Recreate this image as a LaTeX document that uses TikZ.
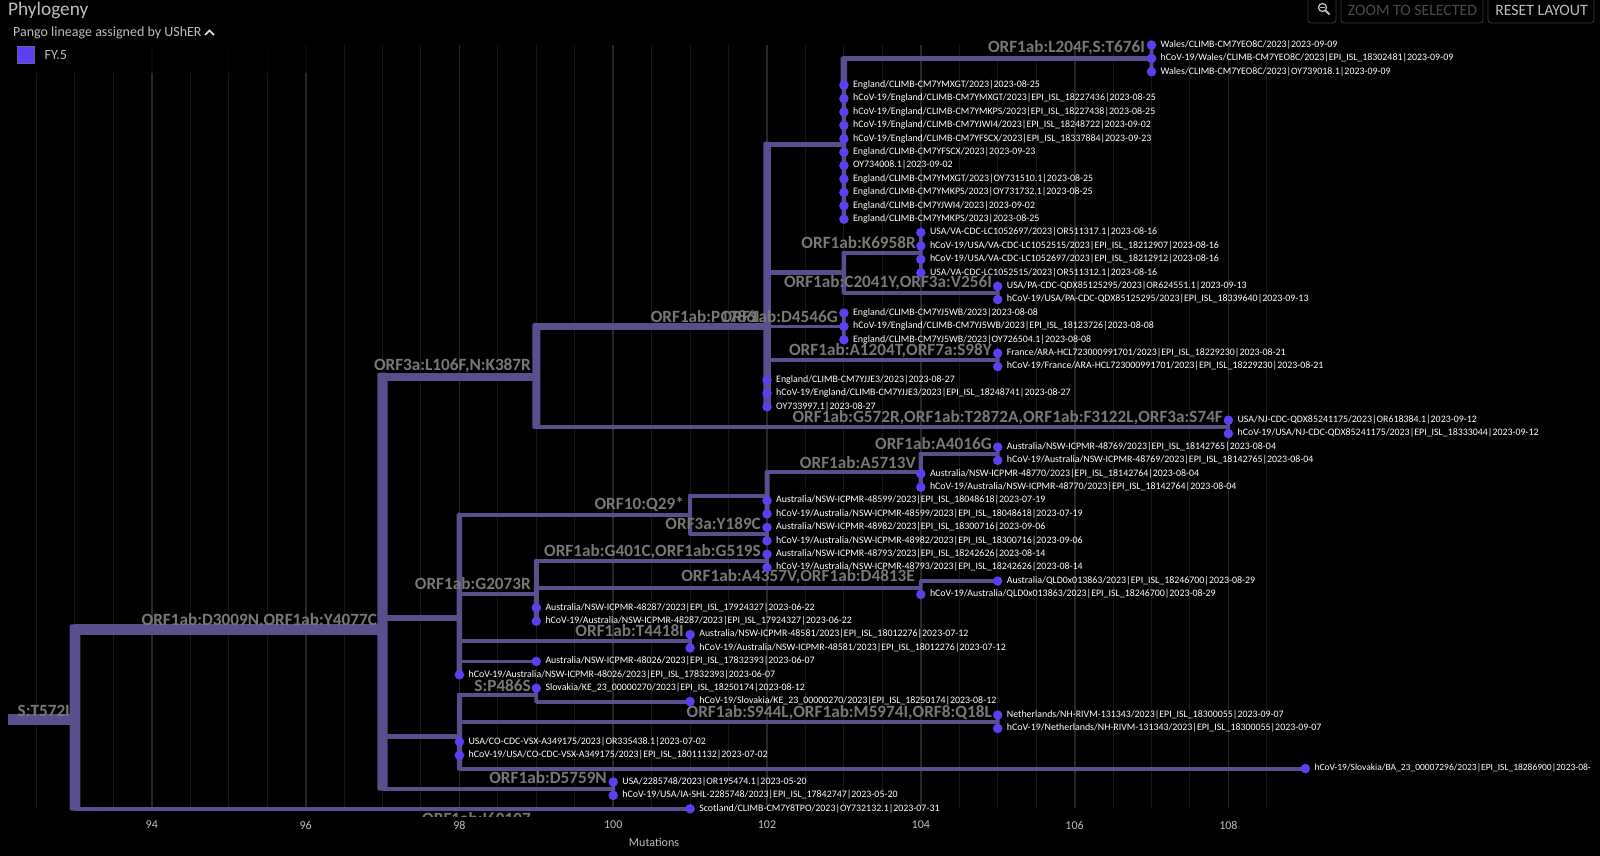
\documentclass[tikz,border=0pt]{standalone}
\usepackage{fontspec}
\usetikzlibrary{calc}
\setmainfont{Carlito}
\definecolor{branch}{HTML}{5A4F8C}
\definecolor{dotc}{HTML}{5A40F0}
\definecolor{mutc}{HTML}{787878}
\definecolor{gridA}{HTML}{282828}
\definecolor{gridB}{HTML}{171717}
\definecolor{gridtext}{HTML}{BDBDBD}
\definecolor{btnline}{HTML}{3A3A3A}
\definecolor{btndim}{HTML}{4A4A4A}
\newcommand{\X}[1]{\fpeval{151.8+(#1-94)*76.9}}
\newcommand{\Y}[1]{\fpeval{45+13.4*#1}}
\tikzset{
  leaflab/.style={anchor=west,text=white,font=\fontsize{9.9}{11}\selectfont,inner sep=0pt},
  mut/.style={anchor=south east,text=mutc,font=\bfseries\fontsize{17.2}{17}\selectfont,inner sep=0pt},
  axtick/.style={text=gridtext,font=\fontsize{12}{12}\selectfont},
  btn/.style={draw=btnline,rounded corners=3pt,line width=0.8pt},
  dotn/.style={circle,fill=dotc,inner sep=0pt,minimum size=9.5pt},
}
% leaf: index, mutations, text
\newcommand{\leafn}[3]{%
  \node[dotn] (l#1) at ({\X{#2}},{\Y{#1}}) {};
  \node[leaflab] (t#1) at ({\X{#2}+9},{\Y{#1}-0.4}) {#3};}
% horizontal arm: parent, child, width
\newcommand{\hbarr}[3]{\draw[branch,line width=#3pt] (#1 |- #2) -- (#2);}
% vertical bar at parent: parent, top, top width, bottom, bottom width, bar width
\newcommand{\vbarr}[6]{\fill[branch,rounded corners=1.5pt] ($(#1 |- #2)+({-#6/2},{-#3/2})$) rectangle ($(#1 |- #4)+({#6/2},{#5/2})$);}
\newcommand{\innern}[3]{\coordinate (#1) at ({\X{#2}},{#3});}
\begin{document}
\begin{tikzpicture}[x=1pt,y=-1pt]
\useasboundingbox (0,0) rectangle (1600,856);
\fill[black] (0,0) rectangle (1600,856);
% grid
\foreach \m in {92.5,93.5,94.5,95.5,96.5,97.5,98.5,99.5,100.5,101.5,102.5,103.5,104.5,105.5,106.5,107.5,108.5,93,95,97,99,101,103,105,107}
  \draw[gridB,line width=1pt] ({\X{\m}},45) -- ({\X{\m}},808);
\foreach \m in {94,96,98,100,102,104,106,108}{
  \draw[gridA,line width=1.8pt] ({\X{\m}},45) -- ({\X{\m}},808);
  \node[axtick] at ({\X{\m}},825) {\m};}
\node[text=gridtext,font=\fontsize{12}{12}\selectfont] (xlab) at (654,842) {Mutations};
% legend veil
\fill[black,opacity=0.8] (0,0) rectangle (320,73);
% inner nodes
\coordinate (root0) at (8,719.3);
\innern{root}{93}{719.3}
\innern{a}{97}{629.5}
\innern{b}{99}{376.8}
\innern{k}{102}{326.7}
\innern{ll}{103}{144.3}
\innern{wal}{107}{58.6}
\innern{m}{103}{272.7}
\innern{va}{104}{252.7}
\innern{pa}{105}{292.9}
\innern{d45}{103}{326.4}
\innern{fr}{105}{359.9}
\innern{nj}{108}{426.9}
\innern{c}{98}{617.7}
\innern{f}{101}{515}
\innern{g}{102}{495.7}
\innern{p}{104}{472}
\innern{q}{105}{453.7}
\innern{y}{102}{534.1}
\innern{d}{99}{594}
\innern{gg}{102}{560.8}
\innern{h4}{104}{588}
\innern{t44}{101}{641.3}
\innern{h}{98}{736.3}
\innern{i}{99}{695}
\innern{nl}{105}{721.7}
\innern{j}{100}{788.7}
% leaf coordinates
\foreach \i/\m in {0/107,1/107,2/107,3/103,4/103,5/103,6/103,7/103,8/103,9/103,10/103,11/103,12/103,13/103,14/104,15/104,16/104,17/104,18/105,19/105,20/103,21/103,22/103,23/105,24/105,25/102,26/102,27/102,28/108,29/108,30/105,31/105,32/104,33/104,34/102,35/102,36/102,37/102,38/102,39/102,40/105,41/104,42/99,43/99,44/101,45/101,46/99,47/98,48/99,49/101,50/105,51/105,52/98,53/98,54/109,55/100,56/100,57/101}
  \coordinate (c\i) at ({\X{\m}},{\Y{\i}});
% vertical bars
\vbarr{root}{a}{10.3}{c57}{3.8}{10.7}
\vbarr{a}{b}{8.3}{j}{4}{10.3}
\vbarr{b}{k}{7.5}{nj}{4}{8}
\vbarr{k}{ll}{5.5}{c27}{0}{7.5}
\vbarr{ll}{wal}{4.3}{c13}{0}{4.4}
\vbarr{ll}{wal}{4.3}{c3}{0}{6.5}
\vbarr{wal}{c0}{0}{c2}{0}{3.6}
\vbarr{m}{va}{3.8}{pa}{3.8}{4.6}
\vbarr{va}{c14}{0}{c17}{0}{3.6}
\vbarr{pa}{c18}{0}{c19}{0}{3.6}
\vbarr{d45}{c20}{0}{c22}{0}{3.6}
\vbarr{fr}{c23}{0}{c24}{0}{3.6}
\vbarr{nj}{c28}{0}{c29}{0}{3.6}
\vbarr{q}{c30}{0}{c31}{0}{3.6}
\vbarr{p}{q}{3.8}{c33}{0}{4.3}
\vbarr{g}{p}{4.2}{c35}{0}{5}
\vbarr{y}{c36}{0}{c37}{0}{3.6}
\vbarr{f}{g}{4.4}{y}{3.8}{4.2}
\vbarr{c}{f}{4.6}{c47}{0}{5.5}
\vbarr{d}{gg}{3.8}{c43}{0}{5}
\vbarr{gg}{c38}{0}{c39}{0}{3.6}
\vbarr{h4}{c40}{3.8}{c41}{0}{3.8}
\vbarr{t44}{c44}{0}{c45}{0}{3.6}
\vbarr{i}{c48}{0}{c49}{3.8}{3.8}
\vbarr{nl}{c50}{0}{c51}{0}{3.6}
\vbarr{h}{i}{3.8}{c54}{3.8}{5.3}
\vbarr{j}{c55}{0}{c56}{0}{3.6}
% horizontal arms
\draw[branch,line width=11pt] (root0) -- (root);
\hbarr{root}{a}{10.3}
\hbarr{root}{c57}{3.8}
\hbarr{a}{b}{8.3}
\hbarr{a}{c}{6.2}
\hbarr{a}{h}{4.7}
\hbarr{a}{j}{4}
\hbarr{b}{k}{7.5}
\hbarr{b}{nj}{4}
\hbarr{k}{ll}{5.5}
\hbarr{ll}{wal}{4.3}
\hbarr{k}{m}{4.5}
\hbarr{m}{va}{3.8}
\hbarr{m}{pa}{3.8}
\hbarr{k}{d45}{3.8}
\hbarr{k}{fr}{3.8}
\hbarr{c}{f}{4.6}
\hbarr{f}{g}{4.4}
\hbarr{g}{p}{4.2}
\hbarr{p}{q}{3.8}
\hbarr{f}{y}{3.8}
\hbarr{c}{d}{4.6}
\hbarr{d}{gg}{3.8}
\hbarr{d}{h4}{3.8}
\hbarr{h4}{c40}{3.8}
\hbarr{c}{t44}{3.8}
\hbarr{c}{c46}{3.8}
\hbarr{h}{i}{3.8}
\hbarr{i}{c49}{3.8}
\hbarr{h}{nl}{3.8}
\hbarr{h}{c54}{3.8}
% mutation labels
\node[mut] at (70,717) {S:T572I};
\node[mut] at (377,628) {ORF1ab:D3009N,ORF1ab:Y4077C};
\node[mut] at (531,373.5) {ORF3a:L106F,N:K387R};
\node[mut] at (760,322.5) {ORF1ab:P1786I};
\node[mut] at (838,322.5) {ORF1ab:D4546G};
\node[mut] at (1145,55) {ORF1ab:L204F,S:T676I};
\node[mut] at (916,249) {ORF1ab:K6958R};
\node[mut] at (992,290.5) {ORF1ab:C2041Y,ORF3a:V256I};
\node[mut] at (992,358.5) {ORF1ab:A1204T,ORF7a:S98Y};
\node[mut] at (1223,425.5) {ORF1ab:G572R,ORF1ab:T2872A,ORF1ab:F3122L,ORF3a:S74F};
\node[mut] at (992,449.5) {ORF1ab:A4016G};
\node[mut] at (916,468.5) {ORF1ab:A5713V};
\node[mut] at (684,512) {ORF10:Q29*};
\node[mut] at (761,530) {ORF3a:Y189C};
\node[mut] at (761,559) {ORF1ab:G401C,ORF1ab:G519S};
\node[mut] at (915,584) {ORF1ab:A4357V,ORF1ab:D4813E};
\node[mut] at (531,590) {ORF1ab:G2073R};
\node[mut] at (684,637) {ORF1ab:T4418I};
\node[mut] at (531,692) {S:P486S};
\node[mut] at (992,720.5) {ORF1ab:S944L,ORF1ab:M5974I,ORF8:Q18L};
\node[mut] at (607,784) {ORF1ab:D5759N};
\begin{scope}
\clip (400,812.6) rectangle (560,816);
\node[mut,anchor=north east] at (531,812.6) {ORF1ab:I60107};
\end{scope}
% leaves
\leafn{0}{107}{Wales/CLIMB-CM7YEO8C/2023|2023-09-09}
\leafn{1}{107}{hCoV-19/Wales/CLIMB-CM7YEO8C/2023|EPI\_ISL\_18302481|2023-09-09}
\leafn{2}{107}{Wales/CLIMB-CM7YEO8C/2023|OY739018.1|2023-09-09}
\leafn{3}{103}{England/CLIMB-CM7YMXGT/2023|2023-08-25}
\leafn{4}{103}{hCoV-19/England/CLIMB-CM7YMXGT/2023|EPI\_ISL\_18227436|2023-08-25}
\leafn{5}{103}{hCoV-19/England/CLIMB-CM7YMKPS/2023|EPI\_ISL\_18227438|2023-08-25}
\leafn{6}{103}{hCoV-19/England/CLIMB-CM7YJWI4/2023|EPI\_ISL\_18248722|2023-09-02}
\leafn{7}{103}{hCoV-19/England/CLIMB-CM7YFSCX/2023|EPI\_ISL\_18337884|2023-09-23}
\leafn{8}{103}{England/CLIMB-CM7YFSCX/2023|2023-09-23}
\leafn{9}{103}{OY734008.1|2023-09-02}
\leafn{10}{103}{England/CLIMB-CM7YMXGT/2023|OY731510.1|2023-08-25}
\leafn{11}{103}{England/CLIMB-CM7YMKPS/2023|OY731732.1|2023-08-25}
\leafn{12}{103}{England/CLIMB-CM7YJWI4/2023|2023-09-02}
\leafn{13}{103}{England/CLIMB-CM7YMKPS/2023|2023-08-25}
\leafn{14}{104}{USA/VA-CDC-LC1052697/2023|OR511317.1|2023-08-16}
\leafn{15}{104}{hCoV-19/USA/VA-CDC-LC1052515/2023|EPI\_ISL\_18212907|2023-08-16}
\leafn{16}{104}{hCoV-19/USA/VA-CDC-LC1052697/2023|EPI\_ISL\_18212912|2023-08-16}
\leafn{17}{104}{USA/VA-CDC-LC1052515/2023|OR511312.1|2023-08-16}
\leafn{18}{105}{USA/PA-CDC-QDX85125295/2023|OR624551.1|2023-09-13}
\leafn{19}{105}{hCoV-19/USA/PA-CDC-QDX85125295/2023|EPI\_ISL\_18339640|2023-09-13}
\leafn{20}{103}{England/CLIMB-CM7YJ5WB/2023|2023-08-08}
\leafn{21}{103}{hCoV-19/England/CLIMB-CM7YJ5WB/2023|EPI\_ISL\_18123726|2023-08-08}
\leafn{22}{103}{England/CLIMB-CM7YJ5WB/2023|OY726504.1|2023-08-08}
\leafn{23}{105}{France/ARA-HCL723000991701/2023|EPI\_ISL\_18229230|2023-08-21}
\leafn{24}{105}{hCoV-19/France/ARA-HCL723000991701/2023|EPI\_ISL\_18229230|2023-08-21}
\leafn{25}{102}{England/CLIMB-CM7YJJE3/2023|2023-08-27}
\leafn{26}{102}{hCoV-19/England/CLIMB-CM7YJJE3/2023|EPI\_ISL\_18248741|2023-08-27}
\leafn{27}{102}{OY733997.1|2023-08-27}
\leafn{28}{108}{USA/NJ-CDC-QDX85241175/2023|OR618384.1|2023-09-12}
\leafn{29}{108}{hCoV-19/USA/NJ-CDC-QDX85241175/2023|EPI\_ISL\_18333044|2023-09-12}
\leafn{30}{105}{Australia/NSW-ICPMR-48769/2023|EPI\_ISL\_18142765|2023-08-04}
\leafn{31}{105}{hCoV-19/Australia/NSW-ICPMR-48769/2023|EPI\_ISL\_18142765|2023-08-04}
\leafn{32}{104}{Australia/NSW-ICPMR-48770/2023|EPI\_ISL\_18142764|2023-08-04}
\leafn{33}{104}{hCoV-19/Australia/NSW-ICPMR-48770/2023|EPI\_ISL\_18142764|2023-08-04}
\leafn{34}{102}{Australia/NSW-ICPMR-48599/2023|EPI\_ISL\_18048618|2023-07-19}
\leafn{35}{102}{hCoV-19/Australia/NSW-ICPMR-48599/2023|EPI\_ISL\_18048618|2023-07-19}
\leafn{36}{102}{Australia/NSW-ICPMR-48982/2023|EPI\_ISL\_18300716|2023-09-06}
\leafn{37}{102}{hCoV-19/Australia/NSW-ICPMR-48982/2023|EPI\_ISL\_18300716|2023-09-06}
\leafn{38}{102}{Australia/NSW-ICPMR-48793/2023|EPI\_ISL\_18242626|2023-08-14}
\leafn{39}{102}{hCoV-19/Australia/NSW-ICPMR-48793/2023|EPI\_ISL\_18242626|2023-08-14}
\leafn{40}{105}{Australia/QLD0x013863/2023|EPI\_ISL\_18246700|2023-08-29}
\leafn{41}{104}{hCoV-19/Australia/QLD0x013863/2023|EPI\_ISL\_18246700|2023-08-29}
\leafn{42}{99}{Australia/NSW-ICPMR-48287/2023|EPI\_ISL\_17924327|2023-06-22}
\leafn{43}{99}{hCoV-19/Australia/NSW-ICPMR-48287/2023|EPI\_ISL\_17924327|2023-06-22}
\leafn{44}{101}{Australia/NSW-ICPMR-48581/2023|EPI\_ISL\_18012276|2023-07-12}
\leafn{45}{101}{hCoV-19/Australia/NSW-ICPMR-48581/2023|EPI\_ISL\_18012276|2023-07-12}
\leafn{46}{99}{Australia/NSW-ICPMR-48026/2023|EPI\_ISL\_17832393|2023-06-07}
\leafn{47}{98}{hCoV-19/Australia/NSW-ICPMR-48026/2023|EPI\_ISL\_17832393|2023-06-07}
\leafn{48}{99}{Slovakia/KE\_23\_00000270/2023|EPI\_ISL\_18250174|2023-08-12}
\leafn{49}{101}{hCoV-19/Slovakia/KE\_23\_00000270/2023|EPI\_ISL\_18250174|2023-08-12}
\leafn{50}{105}{Netherlands/NH-RIVM-131343/2023|EPI\_ISL\_18300055|2023-09-07}
\leafn{51}{105}{hCoV-19/Netherlands/NH-RIVM-131343/2023|EPI\_ISL\_18300055|2023-09-07}
\leafn{52}{98}{USA/CO-CDC-VSX-A349175/2023|OR335438.1|2023-07-02}
\leafn{53}{98}{hCoV-19/USA/CO-CDC-VSX-A349175/2023|EPI\_ISL\_18011132|2023-07-02}
\leafn{54}{109}{\fontsize{9.5}{11}\selectfont hCoV-19/Slovakia/BA\_23\_00007296/2023|EPI\_ISL\_18286900|2023-08-}
\leafn{55}{100}{USA/2285748/2023|OR195474.1|2023-05-20}
\leafn{56}{100}{hCoV-19/USA/IA-SHL-2285748/2023|EPI\_ISL\_17842747|2023-05-20}
\leafn{57}{101}{Scotland/CLIMB-CM7Y8TPO/2023|OY732132.1|2023-07-31}
% header
\node[anchor=west,text=gridtext,font=\fontsize{19.3}{20}\selectfont,inner sep=0pt] (title) at (8,10) {Phylogeny};
\node[anchor=west,text=gridtext,font=\fontsize{14}{14}\selectfont,inner sep=0pt] (pango) at (13,32.5) {Pango lineage assigned by UShER};
\draw[white!90!black,line width=1.6pt] (205,35) -- (209.5,30.5) -- (214,35);
\node[draw=branch!90!white,fill=dotc,line width=1pt,minimum size=17pt,inner sep=0pt] (legsq) at (26,55.5) {};
\node[anchor=west,text=gridtext,font=\fontsize{14}{14}\selectfont,inner sep=0pt] (fy) at (44.5,55.5) {FY.5};
% buttons
\draw[btn] (1308,-4) rectangle (1336,23);
\draw[btn] (1341,-4) rectangle (1483,23);
\draw[btn] (1488,-4) rectangle (1594,23);
\draw[gridtext,line width=1.3pt] (1322.5,7.5) circle (4pt);
\draw[gridtext,line width=2pt] (1325.5,10.5) -- (1329.5,14.5);
\draw[gridtext,line width=1pt] (1320,7.5) -- (1325,7.5);
\node[text=btndim,font=\fontsize{15.8}{15.8}\selectfont,inner sep=0pt] (zs) at (1412.5,10) {ZOOM TO SELECTED};
\node[text=gridtext,font=\fontsize{15.8}{15.8}\selectfont,inner sep=0pt] (rl) at (1541.5,10) {RESET LAYOUT};
\end{tikzpicture}
\end{document}
